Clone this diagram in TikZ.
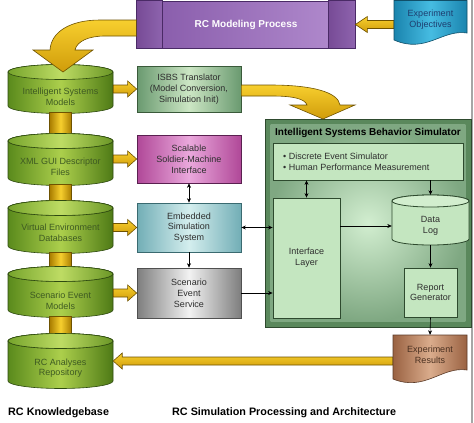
\documentclass[tikz,border=0pt]{standalone}
\usepackage{fontspec}
\setmainfont{Liberation Sans}
\usetikzlibrary{arrows.meta,calc}
\definecolor{cylL}{HTML}{5A8A1C}
\definecolor{cylM}{HTML}{ACCF4C}
\definecolor{cylR}{HTML}{4E7A16}
\definecolor{cyltL}{HTML}{76A42C}
\definecolor{cyltM}{HTML}{BEDC64}
\definecolor{cyltR}{HTML}{6A9626}
\definecolor{cylline}{HTML}{2E4A10}
\definecolor{cyltext}{HTML}{3E5A22}
\definecolor{goldT}{HTML}{F7CF2E}
\definecolor{goldB}{HTML}{D09C0A}
\definecolor{goldE}{HTML}{A87C00}
\definecolor{goldline}{HTML}{6E5200}
\definecolor{purL}{HTML}{8558A8}
\definecolor{purR}{HTML}{B48ED0}
\definecolor{rimL}{HTML}{774B96}
\definecolor{rimR}{HTML}{8E64AE}
\definecolor{purline}{HTML}{4A2A66}
\definecolor{eoE}{HTML}{1A84AE}
\definecolor{eoM}{HTML}{46BCE2}
\definecolor{eotext}{HTML}{1E3F70}
\definecolor{isE}{HTML}{6A9A70}
\definecolor{isM}{HTML}{CCE6C4}
\definecolor{isline}{HTML}{3A5A3A}
\definecolor{pkE}{HTML}{B04898}
\definecolor{pkM}{HTML}{EAA8DC}
\definecolor{pkline}{HTML}{5A2050}
\definecolor{tlE}{HTML}{72AEB6}
\definecolor{tlM}{HTML}{D4EEEE}
\definecolor{tlline}{HTML}{3A6A70}
\definecolor{gyE}{HTML}{7E7E7E}
\definecolor{gyM}{HTML}{F2F2F2}
\definecolor{gyline}{HTML}{505050}
\definecolor{simdark}{HTML}{5A885C}
\definecolor{simin}{HTML}{D2EED0}
\definecolor{simout}{HTML}{7FA882}
\definecolor{inbox}{HTML}{C4E6C0}
\definecolor{inboxtop}{HTML}{D2EECE}
\definecolor{inline}{HTML}{2E4A2E}
\definecolor{erE}{HTML}{9A6242}
\definecolor{erM}{HTML}{DAAC8C}
\definecolor{ertext}{HTML}{4A3020}
\definecolor{txt}{HTML}{2E2E2E}
% cylinder: #1 name, #2 cx, #3 rx, #4 ytop, #5 ybot, #6 ry, #7 style
\newcommand\gcyl[7]{%
  \path[#7] ({#2-#3},#4) -- ({#2-#3},#5) arc[start angle=180,end angle=0,x radius=#3,y radius=#6] -- ({#2+#3},#4) arc[start angle=0,end angle=-180,x radius=#3,y radius=#6] -- cycle;
  \path[#7 top] (#2,#4) ellipse[x radius=#3,y radius=#6];
  \node[minimum width={2*#3},minimum height={#5-#4+2*#6}] (#1) at (#2,{(#4+#5)/2}) {};
}
% fat gold arrow: #1 tail coordinate, #2 tip coordinate, #3 head length (signed)
\newcommand\fatarrow[3]{%
  \path[goldarr] ($(#1)+(0,-4)$) -- ($(#2)+({0-(#3)},-4)$) -- ($(#2)+({0-(#3)},-8)$) -- (#2) -- ($(#2)+({0-(#3)},8)$) -- ($(#2)+({0-(#3)},4)$) -- ($(#1)+(0,4)$) -- cycle;
}
\begin{document}
\begin{tikzpicture}[x=1pt,y=-1pt,
  every node/.style={font=\fontsize{9}{10.8}\selectfont, align=center, inner sep=0pt, text=txt},
  cylg/.style={draw=cylline, line width=0.6pt, left color=cylL, right color=cylR, middle color=cylM},
  cylg top/.style={draw=cylline, line width=0.6pt, left color=cyltL, right color=cyltR, middle color=cyltM},
  dlcyl/.style={draw=inline, line width=0.8pt, fill=inbox},
  dlcyl top/.style={draw=inline, line width=0.8pt, fill=inboxtop},
  goldarr/.style={draw=goldline, line width=0.6pt, top color=goldT, bottom color=goldB},
  goldbar/.style={draw=goldline, line width=0.5pt, left color=goldE, right color=goldE, middle color=goldT},
  sbox/.style={draw, line width=0.7pt, minimum width=104},
  ibox/.style={draw=inline, line width=0.8pt, fill=inbox},
  blk/.style={draw=black, line width=0.6pt, -{Stealth[length=4.5pt,width=4pt]}},
  dblk/.style={draw=black, line width=0.6pt, {Stealth[length=4.5pt,width=4pt]}-{Stealth[length=4.5pt,width=4pt]}},
  ctext/.style={text=cyltext, font=\fontsize{9}{10.5}\selectfont},
  lab/.style={font=\bfseries\fontsize{10.8}{13}\selectfont, text=black, anchor=west}
]
\useasboundingbox (0,0) rectangle (474,423);
\fill[white] (0,0) rectangle (474,423);
\draw[gray!70, line width=1.2pt] (472,0) -- (472,423);

% ---- RC Modeling Process (predefined process)
\node[draw=purline, line width=0.7pt, left color=purL, right color=purR, minimum width=218, minimum height=47] (rcm) at (246,24.5) {};
\path[draw=purline, line width=0.6pt, left color=rimL, right color=rimR] (rcm.north west) rectangle ($(rcm.south west)+(26,0)$);
\path[draw=purline, line width=0.6pt, left color=rimL, right color=rimR] ($(rcm.north east)+(-27,0)$) rectangle (rcm.south east);
\node[text=white, font=\bfseries\fontsize{10}{12}\selectfont] (rcmt) at (rcm.center) {RC Modeling Process};

% ---- Experiment Objectives (document)
\node[minimum width=73, minimum height=40] (eo) at (430.5,20) {};
\fatarrow{eo.west |- rcm.east}{rcm.east}{-12}
\path[draw=eoE!60!black, line width=0.6pt, left color=eoE, right color=eoE, middle color=eoM] (394,0.5) -- (467,0.5) -- (467,33) .. controls (442,29) and (426,54) .. (394,40) -- cycle;
\node[text=eotext] (eot) at (430.5,20) {Experiment\\Objectives};

% ---- gold bars between cylinders
\gcyl{c1}{60.5}{52.5}{72}{106}{7.5}{cylg}
\gcyl{c2}{60.5}{52.5}{141}{178}{7.5}{cylg}
\gcyl{c3}{60.5}{52.5}{208}{246}{7.5}{cylg}
\gcyl{c4}{60.5}{52.5}{274}{310}{7.5}{cylg}
\gcyl{c5}{60.5}{52.5}{341}{381}{7.5}{cylg}
\path[goldbar] ($(c1.south)+(-11,-1)$) rectangle ($(c2.north)+(11,9)$);
\path[goldbar] ($(c2.south)+(-11,-1)$) rectangle ($(c3.north)+(11,9)$);
\path[goldbar] ($(c3.south)+(-11,-1)$) rectangle ($(c4.north)+(11,9)$);
\path[goldbar] ($(c4.south)+(-11,-1)$) rectangle ($(c5.north)+(11,9)$);
% redraw top ellipses over bars
\path[cylg top] (60.5,141) ellipse[x radius=52.5,y radius=7.5];
\path[cylg top] (60.5,208) ellipse[x radius=52.5,y radius=7.5];
\path[cylg top] (60.5,274) ellipse[x radius=52.5,y radius=7.5];
\path[cylg top] (60.5,341) ellipse[x radius=52.5,y radius=7.5];

\node[ctext] (c1t) at (60.5,97) {Intelligent Systems\\Models};
\node[ctext] (c2t) at (60.5,167) {XML GUI Descriptor\\Files};
\node[ctext] (c3t) at (60.5,233) {Virtual Environment\\Databases};
\node[ctext] (c4t) at (60.5,301) {Scenario Event\\Models};
\node[ctext] (c5t) at (60.5,368) {RC Analyses\\Repository};

% ---- middle column boxes
\node[sbox, draw=isline, left color=isE, right color=isE, middle color=isM, minimum height=46] (isbs) at (189,89) {ISBS Translator\\(Model Conversion,\\Simulation Init)};
\node[sbox, draw=pkline, left color=pkE, right color=pkE, middle color=pkM, minimum height=48] (ssm) at (189,159) {Scalable\\Soldier-Machine\\Interface};
\node[sbox, draw=tlline, left color=tlE, right color=tlE, middle color=tlM, minimum height=49] (ess) at (189,227.5) {Embedded\\Simulation\\System};
\node[sbox, draw=gyline, left color=gyE, right color=gyE, middle color=gyM, minimum height=50] (ses) at (189,293) {Scenario\\Event\\Service};

% ---- small gold arrows cylinder -> box
\coordinate (a1) at (c1.east |- isbs.west);
\coordinate (a2) at (c2.east |- ssm.west);
\coordinate (a3) at (c3.east |- ess.west);
\coordinate (a4) at (c4.east |- ses.west);
\fatarrow{a1}{isbs.west}{9}
\fatarrow{a2}{ssm.west}{9}
\fatarrow{a3}{ess.west}{9}
\fatarrow{a4}{ses.west}{9}

% ---- simulator
\node[fill=simdark, draw=inline, line width=0.6pt, minimum width=206, minimum height=208] (sim) at (368,223) {};
\path[inner color=simin, outer color=simout] ($(sim.north west)+(6,6)$) rectangle ($(sim.south east)+(-6,-6)$);
\node[font=\bfseries\fontsize{10}{12}\selectfont, text=black] (simt) at (368,133) {Intelligent Systems Behavior Simulator};
\node[ibox, minimum width=190, minimum height=37] (des) at (368,161.5) {};
\node[anchor=west, align=left] (dest) at (283,161.5) {\textbullet\ Discrete Event Simulator\\\textbullet\ Human Performance Measurement};
\node[ibox, minimum width=67, minimum height=120] (il) at (306.5,258) {Interface\\Layer};
\gcyl{dl}{430.5}{38.5}{201}{239}{6}{dlcyl}
\node (dlt) at (430.5,226) {Data\\Log};
\node[ibox, minimum width=53, minimum height=49] (rg) at (430.5,292.5) {Report\\Generator};

% ---- Experiment Results (document)
\node[minimum width=74, minimum height=45] (er) at (430,357.5) {};
\coordinate (a5) at (er.west |- c5.east);
\fatarrow{a5}{c5.east}{-9}
\path[draw=erE!60!black, line width=0.6pt, left color=erE, right color=erE, middle color=erM] (393,335) -- (467,335) -- (467,370) .. controls (442,366) and (425,392) .. (393,379) -- cycle;
\node[text=ertext] (ert) at (430,355) {Experiment\\Results};

% ---- black connectors
\draw[dblk] (ssm.south) -- (ess.north);
\draw[blk] (ess.south) -- (ses.north);
\draw[dblk] (ess.east) -- (ess.east -| il.west);
\draw[blk] (ses.east) -- (ses.east -| il.west);
\draw[dblk] (il.north) -- (il.north |- des.south);
\draw[blk] (des.south -| dl.north) -- (dl.north);
\draw[blk] (il.east |- dlt) -- (dlt -| dl.west);
\draw[blk] (dl.south) -- (rg.north);
\draw[blk] (rg.south) -- (er.north);

% ---- big curved gold arrows
\path[goldarr] (rcm.west |- 0,20) -- (100,20) .. controls (70,20) and (51,32) .. (50,50) -- (33,50) -- (63,72) -- (93,50) -- (75,50) .. controls (77,41) and (89,36) .. (105,36) -- (rcm.west |- 0,36) -- cycle;
\path[goldarr] (isbs.east |- 0,85) -- (270,85) .. controls (312,85) and (338,92) .. (340,105) -- (355,105) -- (323,119) -- (290,105) -- (307,105) .. controls (305,99) and (294,96) .. (272,96) -- (isbs.east |- 0,96) -- cycle;

% ---- bottom labels
\node[lab] (kb) at (8,413) {RC Knowledgebase};
\node[lab] (sp) at (172,413) {RC Simulation Processing and Architecture};
\end{tikzpicture}
\end{document}
